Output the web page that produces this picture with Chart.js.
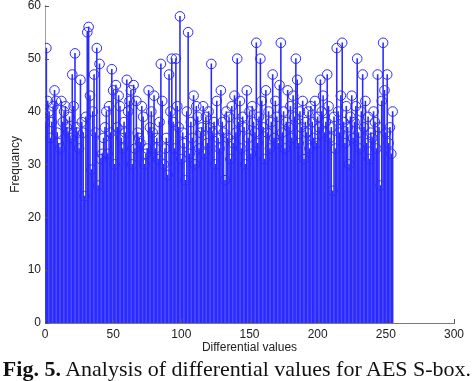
<!DOCTYPE html>
<html>
<head>
<meta charset="utf-8">
<script src="https://cdn.jsdelivr.net/npm/chart.js@4.4.1/dist/chart.umd.min.js"></script>
<style>
  html, body { margin: 0; padding: 0; background: #fff; width: 474px; height: 381px; overflow: hidden; }
  #wrap { position: absolute; left: 0; top: 0; width: 474px; height: 381px; }
  #caption { position: absolute; left: 0; top: 358px; width: 474px; text-align: center;
    font-family: "Liberation Serif", "DejaVu Serif", serif; font-size: 22px; line-height: 22px;
    color: #111; white-space: nowrap; }
  #caption b { font-weight: bold; }
</style>
</head>
<body>
<div id="wrap"><canvas id="c" width="474" height="381"></canvas></div>
<div id="caption"><b>Fig. 5.</b> Analysis of differential values for AES S-box.</div>
<script>
// Frequency of each differential value 0..255
const frequency = [
  38, 52, 42, 40, 35, 38, 41, 44, 42, 36, 34, 33, 42, 38, 40, 41,
  37, 36, 39, 35, 47, 41, 51, 37, 36, 33, 46, 38, 36, 24, 39, 55,
  56, 43, 29, 40, 47, 36, 52, 26, 49, 31, 32, 35, 37, 40, 32, 41,
  36, 48, 44, 30, 45, 37, 43, 41, 35, 33, 38, 36, 46, 40, 42, 44,
  30, 45, 33, 42, 36, 35, 34, 41, 39, 30, 32, 33, 44, 37, 40, 36,
  43, 33, 35, 31, 38, 49, 42, 30, 33, 35, 28, 47, 40, 50, 38, 33,
  50, 41, 37, 58, 31, 36, 34, 27, 40, 55, 32, 38, 35, 43, 30, 41,
  39, 33, 36, 37, 41, 32, 39, 34, 40, 37, 49, 36, 38, 30, 42, 35,
  33, 44, 38, 36, 27, 40, 35, 39, 31, 41, 34, 43, 36, 50, 38, 42,
  33, 39, 37, 30, 44, 35, 40, 32, 41, 38, 36, 53, 34, 39, 50, 42,
  37, 31, 44, 36, 40, 33, 38, 47, 35, 42, 39, 34, 45, 53, 36, 40,
  33, 38, 44, 37, 41, 35, 43, 39, 50, 46, 34, 40, 37, 42, 31, 38,
  36, 40, 33, 41, 38, 35, 42, 34, 39, 37, 46, 40, 43, 36, 38, 47,
  41, 35, 37, 25, 39, 33, 52, 40, 36, 43, 53, 38, 34, 41, 37, 30,
  39, 43, 35, 38, 41, 50, 36, 33, 40, 47, 37, 42, 34, 39, 31, 36,
  35, 40, 38, 33, 47, 37, 26, 42, 53, 44, 36, 47, 34, 37, 32, 40
];
const xTicks = [0, 50, 100, 150, 200, 250, 300];
const yTicks = [0, 10, 20, 30, 40, 50, 60];
const xTitle = 'Differential values';
const yTitle = 'Frequancy';

const points = frequency.map((v, i) => ({ x: i, y: v }));
const STEM = '#2a2aff';
const AXIS = '#7a7a7a';
const FONT = '"Liberation Sans", Arial, sans-serif';

const inwardTicks = {
  id: 'inwardTicks',
  afterDraw(chart) {
    const ctx = chart.ctx, xs = chart.scales.x, ys = chart.scales.y;
    ctx.save();
    ctx.strokeStyle = '#555';
    ctx.lineWidth = 1;
    ctx.beginPath();
    yTicks.forEach(t => {
      const y = Math.round(ys.getPixelForValue(t)) + 0.5;
      ctx.moveTo(xs.left, y); ctx.lineTo(xs.left + 4, y);
    });
    xTicks.forEach(t => {
      const x = Math.round(xs.getPixelForValue(t)) + 0.5;
      ctx.moveTo(x, ys.bottom); ctx.lineTo(x, ys.bottom - 4);
    });
    ctx.stroke();
    ctx.restore();
  }
};

new Chart(document.getElementById('c'), {
  data: {
    datasets: [
      {
        type: 'bar',
        data: points,
        backgroundColor: STEM,
        borderWidth: 0,
        barThickness: 0.9,
        order: 2
      },
      {
        type: 'scatter',
        data: points,
        pointStyle: 'circle',
        pointRadius: 4.8,
        pointBorderWidth: 1,
        pointBorderColor: '#2a2aff',
        pointBackgroundColor: 'rgba(0,0,0,0)',
        showLine: false,
        order: 1
      }
    ]
  },
  options: {
    responsive: false,
    animation: false,
    events: [],
    layout: { padding: { top: 5, right: 20, bottom: 26, left: 0 } },
    plugins: { legend: { display: false }, tooltip: { enabled: false } },
    scales: {
      x: {
        type: 'linear',
        min: 0, max: 300,
        offset: false,
        afterBuildTicks: s => { s.ticks = xTicks.map(v => ({ value: v })); },
        afterFit: s => { s.height = 32; s.paddingLeft = 0; s.paddingRight = 0; },
        grid: { display: false, offset: false, drawTicks: false },
        border: { display: true, color: AXIS, width: 1 },
        ticks: { color: '#222', padding: 4, maxRotation: 0, autoSkip: false,
          font: { family: FONT, size: 12 } },
        title: { display: true, text: xTitle, color: '#222', padding: 0,
          font: { family: FONT, size: 12 } }
      },
      y: {
        min: 0, max: 60,
        afterBuildTicks: s => { s.ticks = yTicks.map(v => ({ value: v })); },
        afterFit: s => { s.width = 45; s.paddingTop = 0; s.paddingBottom = 0; },
        grid: { display: false, drawTicks: false },
        border: { display: true, color: '#a0a0a0', width: 1 },
        ticks: { color: '#222', padding: 4,
          font: { family: FONT, size: 12 } },
        title: { display: true, text: yTitle, color: '#222', padding: { top: 8, bottom: 0 },
          font: { family: FONT, size: 12 } }
      }
    }
  },
  plugins: [inwardTicks]
});
</script>
</body>
</html>
